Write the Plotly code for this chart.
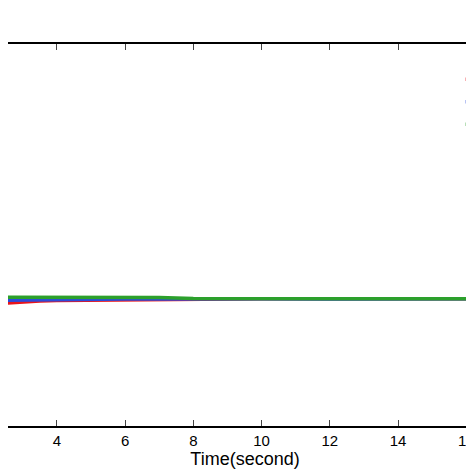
import plotly.graph_objects as go

t = [2.5, 3, 3.5, 4, 5, 6, 7, 8, 9, 10, 12, 14, 16, 16.5]
red = [-0.035, -0.025, -0.018, -0.014, -0.012, -0.010, -0.008, 0.0, 0.0, 0.0, 0.0, 0.0, 0.0, 0.0]
blue = [-0.012, -0.010, -0.008, -0.006, -0.004, -0.002, -0.002, 0.0, 0.0, 0.0, -0.002, 0.0, 0.0, 0.0]
green = [0.012, 0.012, 0.010, 0.010, 0.012, 0.010, 0.010, 0.002, 0.0, 0.0, 0.0, 0.0, 0.0, 0.0]
names = ["Agent 1", "Agent 2", "Agent 3"]
colors = ["#e8141b", "#2b4bdc", "#2ca02c"]
tickvals = [4, 6, 8, 10, 12, 14, 16]

fig = go.Figure()
for y, n, c in zip([red, blue, green], names, colors):
    fig.add_trace(go.Scatter(x=t, y=y, name=n, mode="lines", line=dict(color=c, width=3.5)))

fig.update_layout(
    width=474, height=474, paper_bgcolor="white", plot_bgcolor="white",
    margin=dict(l=0, r=0, t=36, b=56, autoexpand=False),
    font=dict(family="Liberation Sans, Arial", size=15, color="black"),
    legend=dict(x=0.955, y=0.95, xanchor="left", yanchor="top", bgcolor="rgba(0,0,0,0)",
                font=dict(size=15), tracegroupgap=14, itemwidth=30),
    showlegend=True,
)
fig.update_xaxes(range=[2.57, 16.46], tickvals=tickvals, ticks="inside", ticklen=6,
                 showline=True, linecolor="black", linewidth=1.5, mirror="ticks",
                 showgrid=False, zeroline=False,
                 title=dict(text="Time(second)", standoff=4))
fig.update_yaxes(range=[-1, 2], showticklabels=False, showgrid=False, zeroline=False,
                 showline=False, ticks="")
fig.write_html("out.html")
